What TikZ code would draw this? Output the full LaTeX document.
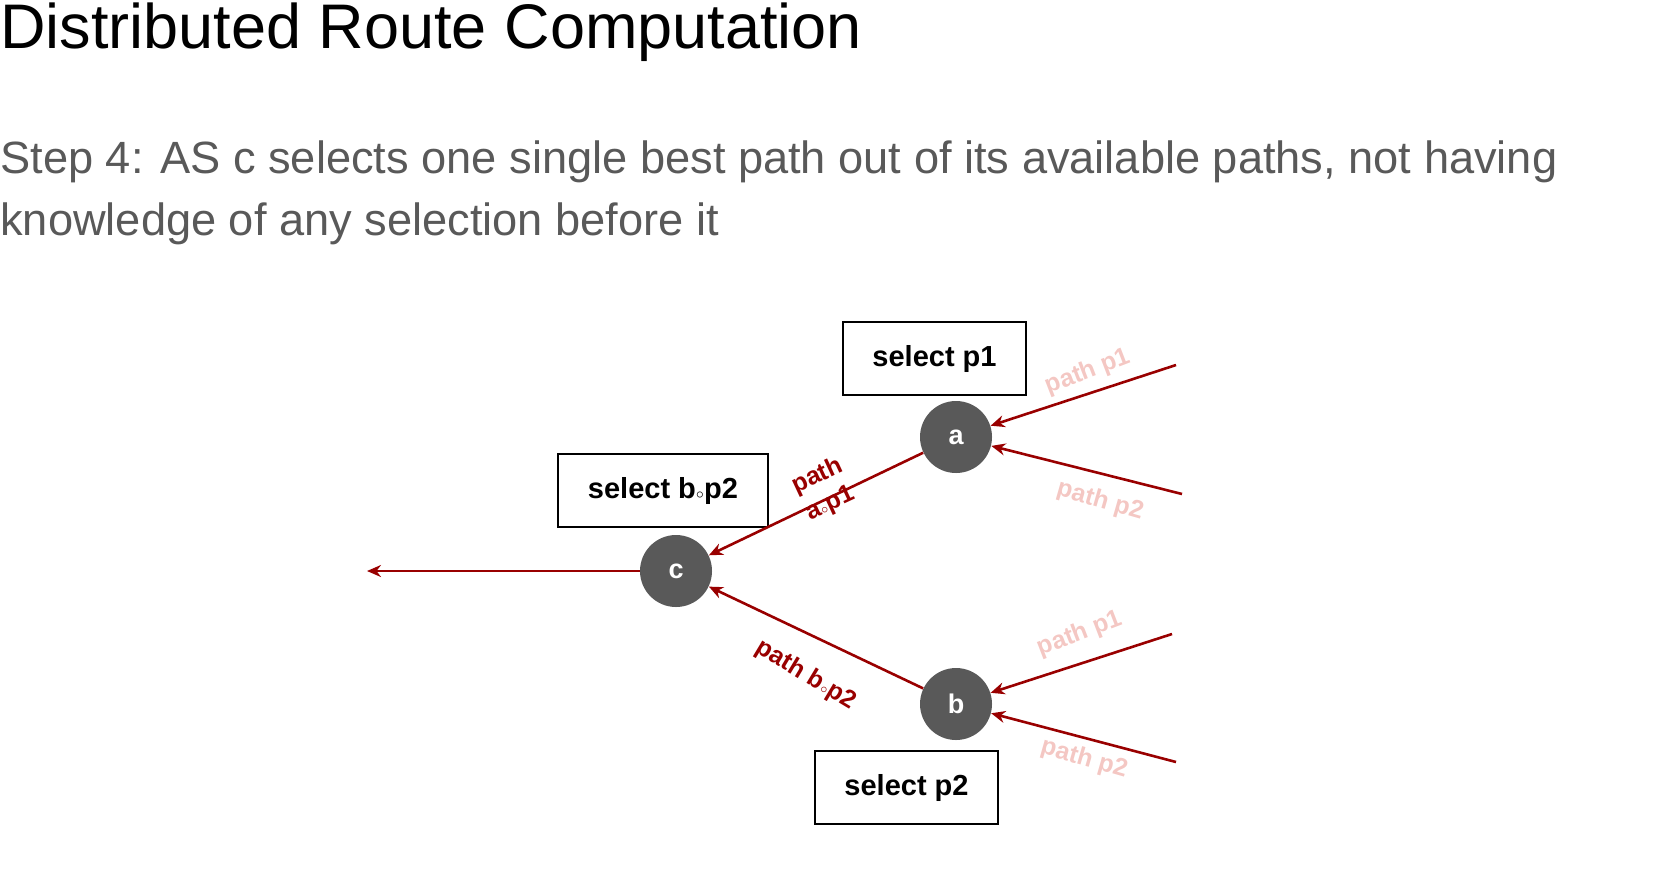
\documentclass[tikz,border=0pt]{standalone}
\usepackage{fontspec}
\setmainfont{Liberation Sans}
\usetikzlibrary{arrows.meta}
\definecolor{dred}{HTML}{990000}
\definecolor{pinkl}{HTML}{F4C7C3}
\definecolor{nodeg}{HTML}{595959}
\begin{document}
\begin{tikzpicture}[x=0.5pt,y=-0.5pt,
  asnode/.style={circle,fill=nodeg,minimum size=36pt,inner sep=0pt,text=white,font=\fontsize{13.5}{15}\selectfont\bfseries},
  selbox/.style={draw=black,line width=0.6pt,minimum height=36.5pt,inner sep=0pt,font=\fontsize{14.5}{16}\selectfont\bfseries},
  conn/.style={draw=dred,line width=1.3pt,-{Stealth[length=7pt,width=6pt]}},
  faint/.style={text=pinkl,font=\fontsize{12.5}{14}\selectfont\bfseries},
  strong/.style={text=dred,font=\fontsize{12.5}{15}\selectfont\bfseries,align=center}]
\useasboundingbox (0,0) rectangle (1679,895);
\node[anchor=base west,inner sep=0pt,font=\fontsize{31.5}{36}\selectfont] (title) at (0,48) {Distributed Route Computation};
\node[anchor=base west,inner sep=0pt,font=\fontsize{22.6}{31}\selectfont,text=nodeg] (sub) at (0,173) {Step 4: AS c selects one single best path out of its available paths, not having};
\node[anchor=base west,inner sep=0pt,font=\fontsize{22.6}{31}\selectfont,text=nodeg] (sub2) at (0,235) {knowledge of any selection before it};
\node[asnode] (a) at (956,437) {a};
\node[asnode] (c) at (676,571) {c};
\node[asnode] (b) at (956,704) {b};
\node[selbox,minimum width=91.5pt] (s1) at (934.5,358.5) {select p1};
\node[selbox,minimum width=105pt] (sc) at (663,490.5) {select b$\scriptscriptstyle\circ$p2};
\node[selbox,minimum width=91.5pt] (s2) at (906.5,787.5) {select p2};
\coordinate (a1) at (1176,365);
\coordinate (a2) at (1182,494);
\coordinate (b1) at (1172,634);
\coordinate (b2) at (1176,762);
\coordinate (out) at (367,571);
\draw[conn] (a1) -- (a);
\draw[conn] (a2) -- (a);
\draw[conn] (b1) -- (b);
\draw[conn] (b2) -- (b);
\draw[conn] (a) -- (c);
\draw[conn] (b) -- (c);
\draw[conn] (c) -- (out);
\node[faint,rotate=21] (l1) at (1088,372) {path p1};
\node[faint,rotate=-16] (l2) at (1100,501) {path p2};
\node[faint,rotate=21] (l3) at (1080,634) {path p1};
\node[faint,rotate=-16] (l4) at (1084,759) {path p2};
\node[strong,rotate=25] (l5) at (824,490) {path\\a$\scriptscriptstyle\circ$p1};
\node[strong,rotate=-31] (l6) at (806,675) {path b$\scriptscriptstyle\circ$p2};
\end{tikzpicture}
\end{document}
